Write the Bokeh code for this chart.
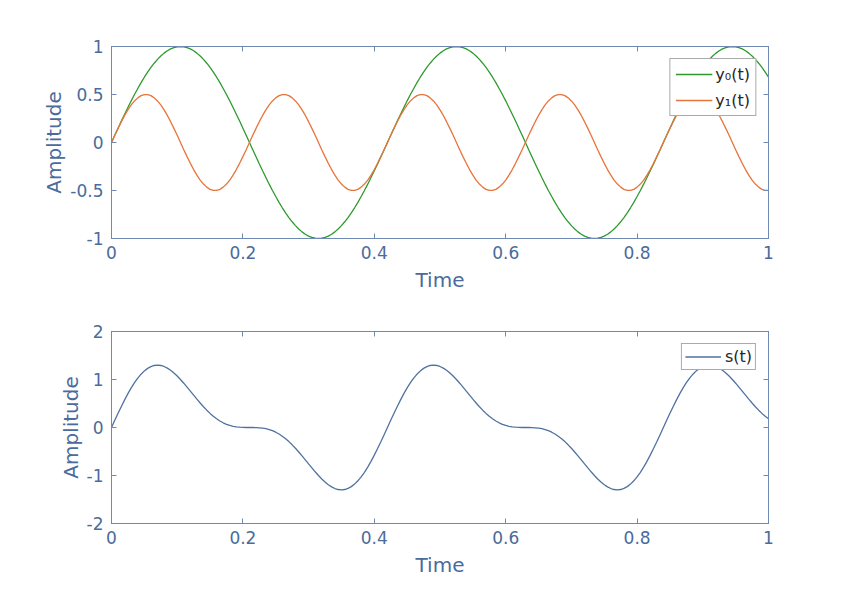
from bokeh.plotting import figure
from bokeh.models import Range1d, FixedTicker, LinearAxis, CustomJSTickFormatter
from bokeh.layouts import column
from bokeh.embed import file_html
from bokeh.resources import INLINE

# ---- data ----
t = [0.000, 0.005, 0.010, 0.015, 0.020, 0.025, 0.030, 0.035, 0.040, 0.045,
     0.050, 0.055, 0.060, 0.065, 0.070, 0.075, 0.080, 0.085, 0.090, 0.095,
     0.100, 0.105, 0.110, 0.115, 0.120, 0.125, 0.130, 0.135, 0.140, 0.145,
     0.150, 0.155, 0.160, 0.165, 0.170, 0.175, 0.180, 0.185, 0.190, 0.195,
     0.200, 0.205, 0.210, 0.215, 0.220, 0.225, 0.230, 0.235, 0.240, 0.245,
     0.250, 0.255, 0.260, 0.265, 0.270, 0.275, 0.280, 0.285, 0.290, 0.295,
     0.300, 0.305, 0.310, 0.315, 0.320, 0.325, 0.330, 0.335, 0.340, 0.345,
     0.350, 0.355, 0.360, 0.365, 0.370, 0.375, 0.380, 0.385, 0.390, 0.395,
     0.400, 0.405, 0.410, 0.415, 0.420, 0.425, 0.430, 0.435, 0.440, 0.445,
     0.450, 0.455, 0.460, 0.465, 0.470, 0.475, 0.480, 0.485, 0.490, 0.495,
     0.500, 0.505, 0.510, 0.515, 0.520, 0.525, 0.530, 0.535, 0.540, 0.545,
     0.550, 0.555, 0.560, 0.565, 0.570, 0.575, 0.580, 0.585, 0.590, 0.595,
     0.600, 0.605, 0.610, 0.615, 0.620, 0.625, 0.630, 0.635, 0.640, 0.645,
     0.650, 0.655, 0.660, 0.665, 0.670, 0.675, 0.680, 0.685, 0.690, 0.695,
     0.700, 0.705, 0.710, 0.715, 0.720, 0.725, 0.730, 0.735, 0.740, 0.745,
     0.750, 0.755, 0.760, 0.765, 0.770, 0.775, 0.780, 0.785, 0.790, 0.795,
     0.800, 0.805, 0.810, 0.815, 0.820, 0.825, 0.830, 0.835, 0.840, 0.845,
     0.850, 0.855, 0.860, 0.865, 0.870, 0.875, 0.880, 0.885, 0.890, 0.895,
     0.900, 0.905, 0.910, 0.915, 0.920, 0.925, 0.930, 0.935, 0.940, 0.945,
     0.950, 0.955, 0.960, 0.965, 0.970, 0.975, 0.980, 0.985, 0.990, 0.995,
     1.000]

y0 = [
    # t = 0.000 .. 0.415
    0.000, 0.075, 0.149, 0.223, 0.295, 0.365, 0.434, 0.500, 0.563, 0.623, 0.680, 0.733,
    0.782, 0.826, 0.866, 0.901, 0.931, 0.956, 0.975, 0.989, 0.997, 1.000, 0.997, 0.989,
    0.975, 0.956, 0.931, 0.901, 0.866, 0.826, 0.782, 0.733, 0.680, 0.623, 0.563, 0.500,
    0.434, 0.365, 0.295, 0.223, 0.149, 0.075,
    0.000, -0.075, -0.149, -0.223, -0.295, -0.365, -0.434, -0.500, -0.563, -0.623, -0.680, -0.733,
    -0.782, -0.826, -0.866, -0.901, -0.931, -0.956, -0.975, -0.989, -0.997, -1.000, -0.997, -0.989,
    -0.975, -0.956, -0.931, -0.901, -0.866, -0.826, -0.782, -0.733, -0.680, -0.623, -0.563, -0.500,
    -0.434, -0.365, -0.295, -0.223, -0.149, -0.075,
    # t = 0.420 .. 0.835
    0.000, 0.075, 0.149, 0.223, 0.295, 0.365, 0.434, 0.500, 0.563, 0.623, 0.680, 0.733,
    0.782, 0.826, 0.866, 0.901, 0.931, 0.956, 0.975, 0.989, 0.997, 1.000, 0.997, 0.989,
    0.975, 0.956, 0.931, 0.901, 0.866, 0.826, 0.782, 0.733, 0.680, 0.623, 0.563, 0.500,
    0.434, 0.365, 0.295, 0.223, 0.149, 0.075,
    0.000, -0.075, -0.149, -0.223, -0.295, -0.365, -0.434, -0.500, -0.563, -0.623, -0.680, -0.733,
    -0.782, -0.826, -0.866, -0.901, -0.931, -0.956, -0.975, -0.989, -0.997, -1.000, -0.997, -0.989,
    -0.975, -0.956, -0.931, -0.901, -0.866, -0.826, -0.782, -0.733, -0.680, -0.623, -0.563, -0.500,
    -0.434, -0.365, -0.295, -0.223, -0.149, -0.075,
    # t = 0.840 .. 1.000
    0.000, 0.075, 0.149, 0.223, 0.295, 0.365, 0.434, 0.500, 0.563, 0.623, 0.680, 0.733,
    0.782, 0.826, 0.866, 0.901, 0.931, 0.956, 0.975, 0.989, 0.997, 1.000, 0.997, 0.989,
    0.975, 0.956, 0.931, 0.901, 0.866, 0.826, 0.782, 0.733, 0.680,
]

y1 = [
    # t = 0.000 .. 0.205
    0.000, 0.075, 0.147, 0.217, 0.282, 0.340, 0.391, 0.433, 0.465, 0.488, 0.499,
    0.499, 0.488, 0.465, 0.433, 0.391, 0.340, 0.282, 0.217, 0.147, 0.075,
    0.000, -0.075, -0.147, -0.217, -0.282, -0.340, -0.391, -0.433, -0.465, -0.488, -0.499,
    -0.499, -0.488, -0.465, -0.433, -0.391, -0.340, -0.282, -0.217, -0.147, -0.075,
    # t = 0.210 .. 0.415
    0.000, 0.075, 0.147, 0.217, 0.282, 0.340, 0.391, 0.433, 0.465, 0.488, 0.499,
    0.499, 0.488, 0.465, 0.433, 0.391, 0.340, 0.282, 0.217, 0.147, 0.075,
    0.000, -0.075, -0.147, -0.217, -0.282, -0.340, -0.391, -0.433, -0.465, -0.488, -0.499,
    -0.499, -0.488, -0.465, -0.433, -0.391, -0.340, -0.282, -0.217, -0.147, -0.075,
    # t = 0.420 .. 0.625
    0.000, 0.075, 0.147, 0.217, 0.282, 0.340, 0.391, 0.433, 0.465, 0.488, 0.499,
    0.499, 0.488, 0.465, 0.433, 0.391, 0.340, 0.282, 0.217, 0.147, 0.075,
    0.000, -0.075, -0.147, -0.217, -0.282, -0.340, -0.391, -0.433, -0.465, -0.488, -0.499,
    -0.499, -0.488, -0.465, -0.433, -0.391, -0.340, -0.282, -0.217, -0.147, -0.075,
    # t = 0.630 .. 0.835
    0.000, 0.075, 0.147, 0.217, 0.282, 0.340, 0.391, 0.433, 0.465, 0.488, 0.499,
    0.499, 0.488, 0.465, 0.433, 0.391, 0.340, 0.282, 0.217, 0.147, 0.075,
    0.000, -0.075, -0.147, -0.217, -0.282, -0.340, -0.391, -0.433, -0.465, -0.488, -0.499,
    -0.499, -0.488, -0.465, -0.433, -0.391, -0.340, -0.282, -0.217, -0.147, -0.075,
    # t = 0.840 .. 1.000
    0.000, 0.075, 0.147, 0.217, 0.282, 0.340, 0.391, 0.433, 0.465, 0.488, 0.499,
    0.499, 0.488, 0.465, 0.433, 0.391, 0.340, 0.282, 0.217, 0.147, 0.075,
    0.000, -0.075, -0.147, -0.217, -0.282, -0.340, -0.391, -0.433, -0.465, -0.488, -0.499,
    -0.499,
]

s = [
    # t = 0.000 .. 0.415
    0.000, 0.149, 0.296, 0.439, 0.576, 0.705, 0.825, 0.933, 1.029, 1.111, 1.179, 1.232,
    1.269, 1.292, 1.299, 1.292, 1.271, 1.237, 1.192, 1.136, 1.072, 1.000, 0.923, 0.841,
    0.758, 0.674, 0.591, 0.510, 0.433, 0.361, 0.294, 0.234, 0.182, 0.136, 0.098, 0.067,
    0.043, 0.025, 0.013, 0.006, 0.002, 0.000,
    0.000, 0.000, -0.002, -0.006, -0.013, -0.025, -0.043, -0.067, -0.098, -0.136, -0.182, -0.234,
    -0.294, -0.361, -0.433, -0.510, -0.591, -0.674, -0.758, -0.841, -0.923, -1.000, -1.072, -1.136,
    -1.192, -1.237, -1.271, -1.292, -1.299, -1.292, -1.269, -1.232, -1.179, -1.111, -1.029, -0.933,
    -0.825, -0.705, -0.576, -0.439, -0.296, -0.149,
    # t = 0.420 .. 0.835
    0.000, 0.149, 0.296, 0.439, 0.576, 0.705, 0.825, 0.933, 1.029, 1.111, 1.179, 1.232,
    1.269, 1.292, 1.299, 1.292, 1.271, 1.237, 1.192, 1.136, 1.072, 1.000, 0.923, 0.841,
    0.758, 0.674, 0.591, 0.510, 0.433, 0.361, 0.294, 0.234, 0.182, 0.136, 0.098, 0.067,
    0.043, 0.025, 0.013, 0.006, 0.002, 0.000,
    0.000, 0.000, -0.002, -0.006, -0.013, -0.025, -0.043, -0.067, -0.098, -0.136, -0.182, -0.234,
    -0.294, -0.361, -0.433, -0.510, -0.591, -0.674, -0.758, -0.841, -0.923, -1.000, -1.072, -1.136,
    -1.192, -1.237, -1.271, -1.292, -1.299, -1.292, -1.269, -1.232, -1.179, -1.111, -1.029, -0.933,
    -0.825, -0.705, -0.576, -0.439, -0.296, -0.149,
    # t = 0.840 .. 1.000
    0.000, 0.149, 0.296, 0.439, 0.576, 0.705, 0.825, 0.933, 1.029, 1.111, 1.179, 1.232,
    1.269, 1.292, 1.299, 1.292, 1.271, 1.237, 1.192, 1.136, 1.072, 1.000, 0.923, 0.841,
    0.758, 0.674, 0.591, 0.510, 0.433, 0.361, 0.294, 0.234, 0.182,
]

assert len(t) == len(y0) == len(y1) == len(s) == 201

x_ticks = [0, 0.2, 0.4, 0.6, 0.8, 1]
top_y_ticks = [-1, -0.5, 0, 0.5, 1]
bottom_y_ticks = [-2, -1, 0, 1, 2]
x_label = "Time"
y_label = "Amplitude"
label_y0 = "y\u2080(t)"
label_y1 = "y\u2081(t)"
label_s = "s(t)"

# ---- styles ----
TEXT = "#4a6b9c"
AXLINE = "#6e89b4"
GREEN = "#2e9a2e"
ORANGE = "#e8743b"
BLUE = "#4f72a0"
FONT = "DejaVu Sans"

num_fmt = "return String(Number(tick.toFixed(6)));"
blank_fmt = "return '';"


def style_axes(p, yticks):
    for ax in p.xaxis + p.yaxis:
        ax.axis_line_color = AXLINE
        ax.axis_line_width = 1
        ax.major_tick_line_color = AXLINE
        ax.major_tick_in = 5
        ax.major_tick_out = 0
        ax.minor_tick_in = 0
        ax.minor_tick_out = 0
        ax.major_label_text_color = TEXT
        ax.major_label_text_font = FONT
        ax.major_label_text_font_size = "17px"
        ax.axis_label_text_color = TEXT
        ax.axis_label_text_font = FONT
        ax.axis_label_text_font_size = "20px"
        ax.axis_label_text_font_style = "normal"
        ax.formatter = CustomJSTickFormatter(code=num_fmt)
    p.xaxis.ticker = FixedTicker(ticks=x_ticks)
    p.yaxis.ticker = FixedTicker(ticks=yticks)
    p.xaxis.major_label_standoff = 7
    p.yaxis.major_label_standoff = 8
    p.xaxis.axis_label_standoff = 6
    p.yaxis.axis_label_standoff = 1
    p.xaxis.axis_label = x_label
    p.yaxis.axis_label = y_label

    top = LinearAxis(ticker=FixedTicker(ticks=x_ticks),
                     formatter=CustomJSTickFormatter(code=blank_fmt))
    right = LinearAxis(ticker=FixedTicker(ticks=yticks),
                       formatter=CustomJSTickFormatter(code=blank_fmt))
    for ax in (top, right):
        ax.axis_line_color = AXLINE
        ax.major_tick_line_color = AXLINE
        ax.major_tick_in = 5
        ax.major_tick_out = 0
        ax.minor_tick_in = 0
        ax.minor_tick_out = 0
        ax.major_label_standoff = 0
        ax.major_label_text_font_size = "1px"
    p.add_layout(top, "above")
    p.add_layout(right, "right")
    p.xgrid.visible = False
    p.ygrid.visible = False
    p.outline_line_color = AXLINE
    p.background_fill_color = "white"
    p.border_fill_color = "white"


def style_legend(p, padding, row_h, spacing, glyph_w, standoff):
    lg = p.legend[0]
    lg.location = "top_right"
    lg.margin = 12
    lg.padding = padding
    lg.spacing = spacing
    lg.label_height = row_h
    lg.glyph_height = row_h
    lg.glyph_width = glyph_w
    lg.label_standoff = standoff
    lg.label_text_font = FONT
    lg.label_text_font_size = "16px"
    lg.label_text_color = "#262626"
    lg.border_line_color = "#555555"
    lg.border_line_width = 1
    lg.background_fill_color = "white"
    lg.background_fill_alpha = 1


W = 850
p1 = figure(width=W, height=308, x_range=Range1d(0, 1), y_range=Range1d(-1, 1),
            toolbar_location=None, output_backend="svg",
            min_border_left=111, min_border_right=82,
            min_border_top=46, min_border_bottom=70)
p1.line(t, y0, line_color=GREEN, line_width=1.3, legend_label=label_y0)
p1.line(t, y1, line_color=ORANGE, line_width=1.3, legend_label=label_y1)
style_axes(p1, top_y_ticks)
style_legend(p1, 5, 20, 6, 37, 3)

p2 = figure(width=W, height=295, x_range=Range1d(0, 1), y_range=Range1d(-2, 2),
            toolbar_location=None, output_backend="svg",
            min_border_left=111, min_border_right=82,
            min_border_top=23, min_border_bottom=80)
p2.line(t, s, line_color=BLUE, line_width=1.3, legend_label=label_s)
style_axes(p2, bottom_y_ticks)
style_legend(p2, 3, 17, 0, 36, 4)

layout = column(p1, p2, spacing=0)
open("out.html", "w").write(file_html(layout, INLINE))
